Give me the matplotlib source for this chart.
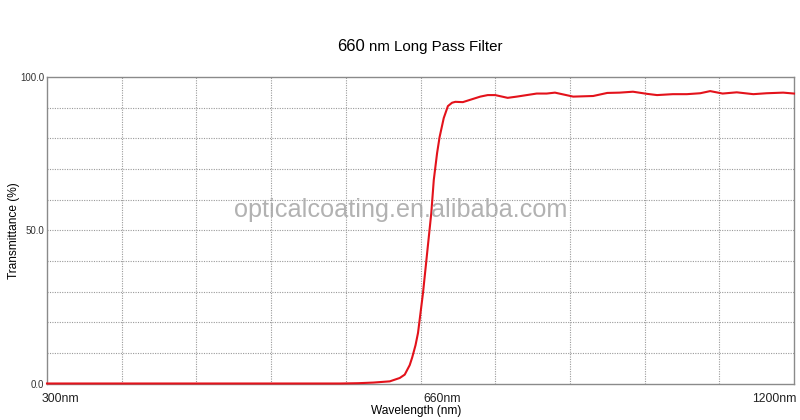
import matplotlib.pyplot as plt
from matplotlib.transforms import ScaledTranslation

plt.rcParams['font.family'] = ['Liberation Sans', 'DejaVu Sans']

# wavelength positions on the chart's 300-1200 scale and transmittance (%)
wavelength = [300, 400, 500, 600, 653, 675, 693, 713, 725, 731, 737, 740, 744, 747,
              753, 758, 763, 766, 770, 773, 778, 783, 788, 792, 801, 822, 831, 840,
              855, 866, 890, 902, 912, 934, 958, 975, 990, 1006, 1023, 1035, 1054,
              1071, 1087, 1099, 1114, 1131, 1151, 1167, 1187, 1200]
transmittance = [0.0, 0.0, 0.0, 0.0, 0.0, 0.1, 0.3, 0.7, 1.8, 2.9, 6.0, 8.5, 12.5, 16.5,
                 29.5, 42.6, 55.6, 66.4, 75.2, 80.4, 86.6, 90.5, 91.6, 91.9, 91.8, 93.6, 94.1, 94.1,
                 93.2, 93.6, 94.6, 94.6, 94.9, 93.6, 93.8, 94.8, 94.9, 95.2, 94.5, 94.1, 94.4,
                 94.4, 94.7, 95.4, 94.6, 95.0, 94.4, 94.7, 94.9, 94.6]

xtick_pos = [300, 750, 1200]
xtick_labels = ['300nm', '660nm', '1200nm']
ytick_pos = [0, 50, 100]
ytick_labels = ['0.0', '50.0', '100.0']

fig = plt.figure(figsize=(8, 4.2), dpi=100)
ax = fig.add_axes([47 / 800, 36.5 / 420, 747 / 800, 306.5 / 420])

ax.plot(wavelength, transmittance, color='#e3121b', lw=1.5, zorder=3, clip_on=False)

ax.set_xlim(300, 1200)
ax.set_ylim(0, 100)

# dotted grid: 10 columns, 10 rows
for gx in range(390, 1200, 90):
    ax.axvline(gx, color='#9a9a9a', lw=0.8, ls=(0, (1, 1.2)), zorder=1)
for gy in range(10, 100, 10):
    ax.axhline(gy, color='#9a9a9a', lw=0.8, ls=(0, (1, 1.2)), zorder=1)

for sp in ax.spines.values():
    sp.set_color('#8a8a8a')
    sp.set_linewidth(1.0)

ax.set_yticks(ytick_pos)
ax.set_yticklabels(ytick_labels, fontsize=7, color='#333333')
ax.set_xticks(xtick_pos)
ax.set_xticklabels(xtick_labels, fontsize=8.8, color='#222222')
ax.tick_params(length=0)
ax.tick_params(axis='y', pad=2)
ax.tick_params(axis='x', pad=7)

xl = ax.get_xticklabels()
shifts = [(-5, 'left'), (3, 'left'), (3, 'right')]
for lab, (dx, ha) in zip(xl, shifts):
    lab.set_ha(ha)
    lab.set_transform(lab.get_transform() + ScaledTranslation(dx / 100, 0, fig.dpi_scale_trans))

fig.text(416 / 800, 1 - 411 / 420, 'Wavelength (nm)', fontsize=8.6, ha='center', va='center')
fig.text(14 / 800, 1 - 231 / 420, 'Transmittance (%)', fontsize=8.6, rotation=90,
         ha='center', va='center')

# title in two sizes
fig.text(337 / 800, 1 - 51 / 420, '660', fontsize=12, ha='left', va='baseline')
fig.text(369 / 800, 1 - 51 / 420, 'nm Long Pass Filter', fontsize=10.8, ha='left', va='baseline')

# watermark
fig.text(400.5 / 800, 1 - 217 / 420, 'opticalcoating.en.alibaba.com', fontsize=18.2,
         color='#aaaaaa', alpha=0.9, ha='center', va='baseline', zorder=5)

fig.savefig('out.png', dpi=100)
